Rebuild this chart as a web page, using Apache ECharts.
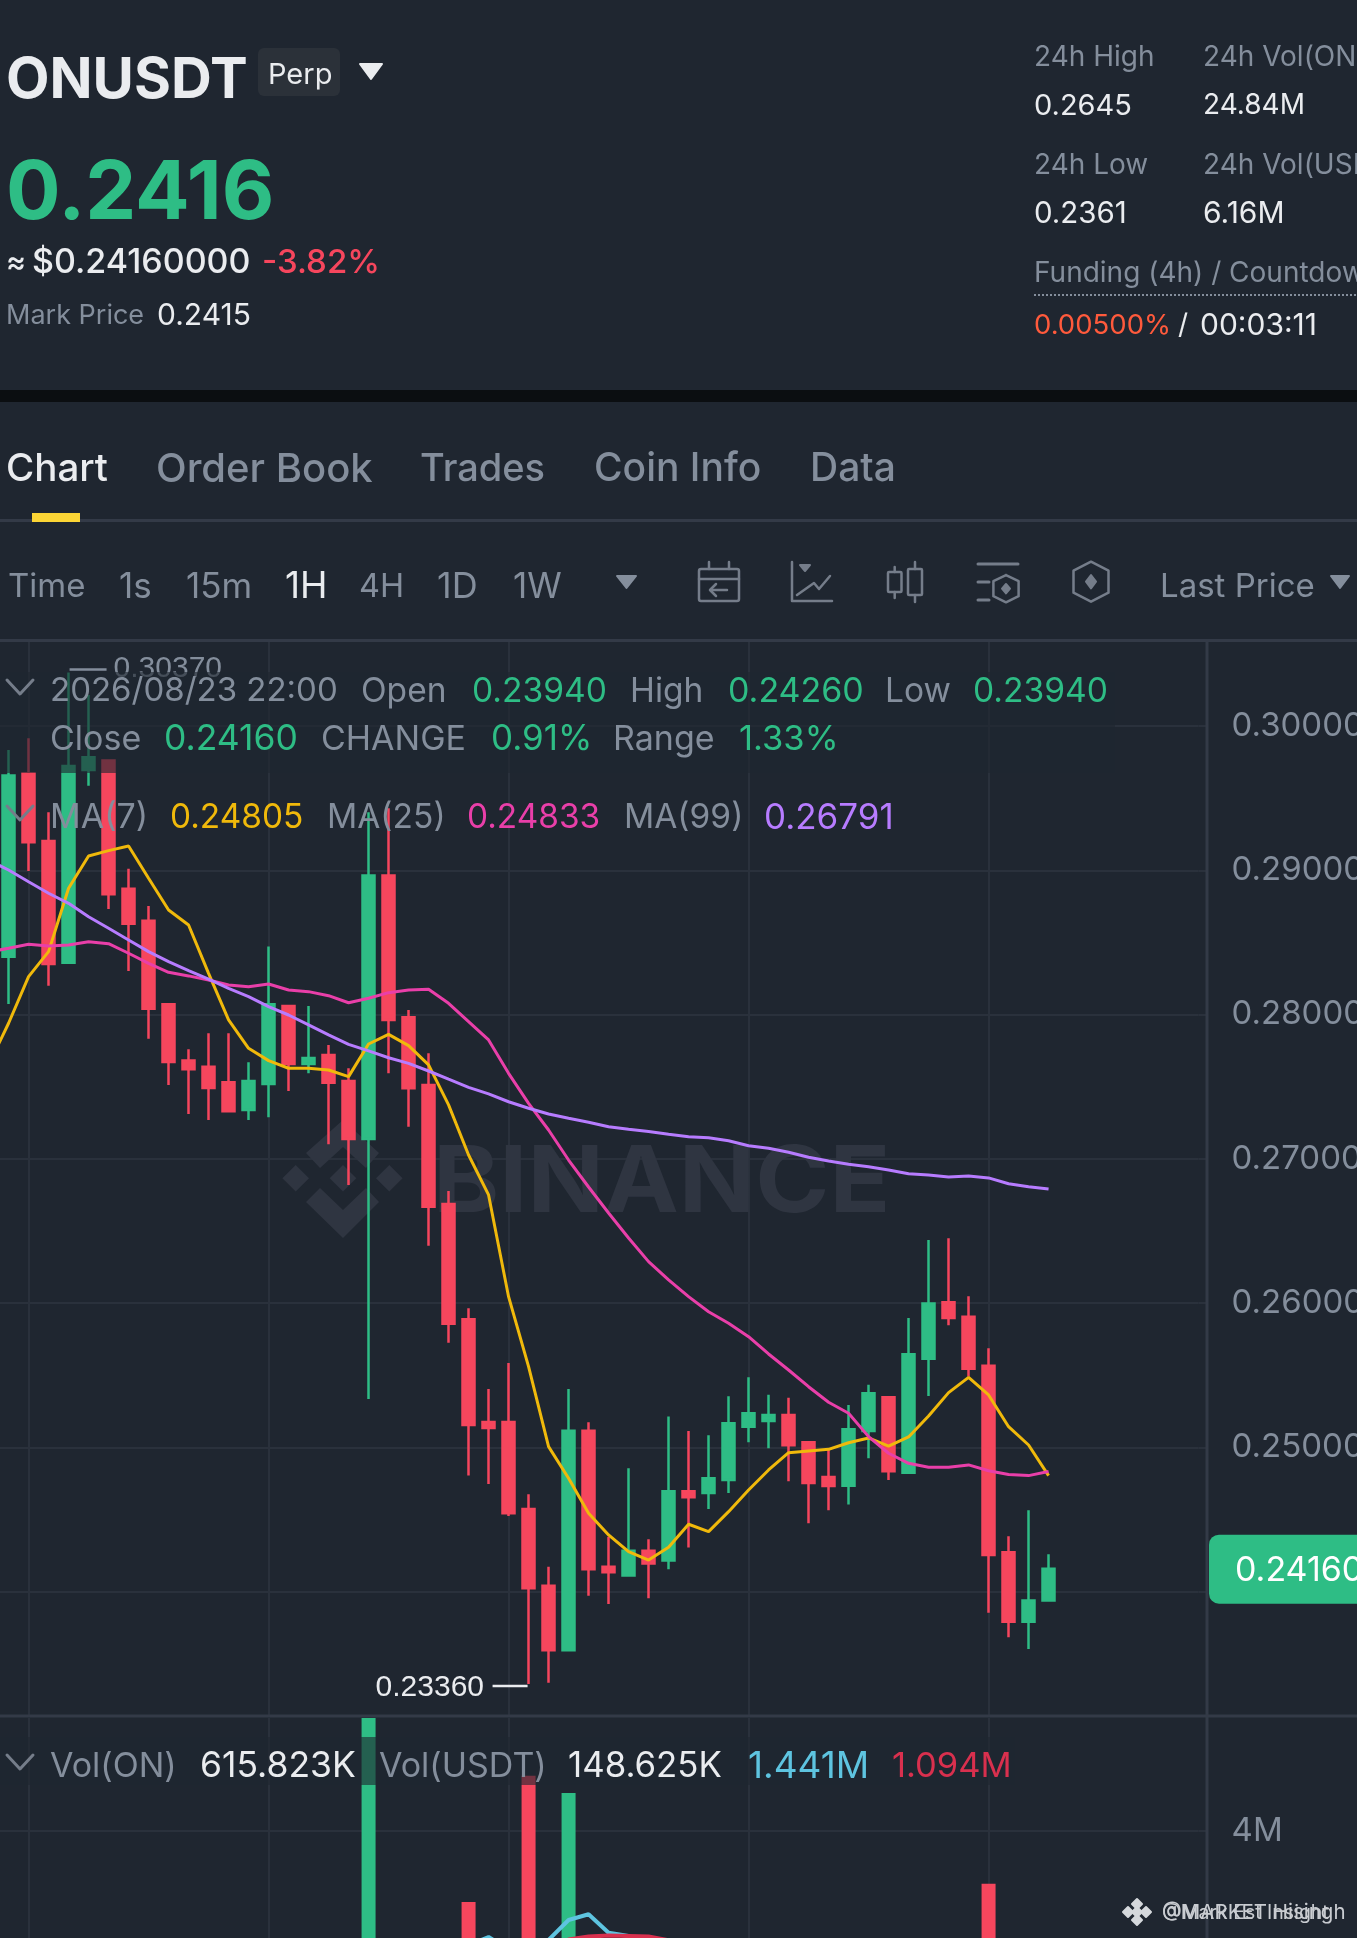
<!DOCTYPE html>
<html><head><meta charset="utf-8">
<style>html,body{margin:0;padding:0;background:#1f2630;overflow:hidden}#c{width:1357px;height:1938px}</style>
<script src="https://cdn.jsdelivr.net/npm/echarts@6/dist/echarts.min.js"></script>
</head><body><div id="c"></div>
<script>
const opens=[.27985,.28401,.29672,.29203,.28360,.29695,.29760,.28872,.28651,.28071,.27681,.27639,.27531,.27339,.27519,.28060,.27658,.27720,.27540,.27138,.28963,.27981,.27512,.26687,.25888,.25177,.25177,.24574,.24042,.23595,.25116,.24174,.24112,.24285,.24216,.24697,.24685,.24775,.25144,.25184,.25225,.25036,.24796,.24735,.25114,.25348,.24825,.25615,.26006,.25906,.25567,.24274,.23793,.23940];
const closes=[.28400,.29656,.29194,.28351,.29723,.29783,.28834,.28630,.28041,.27672,.27621,.27491,.27330,.27540,.28071,.27658,.27699,.27528,.27138,.28963,.27963,.27489,.26669,.25858,.25156,.25135,.24544,.24024,.23595,.25116,.24156,.24135,.24285,.24195,.24697,.24655,.24787,.25168,.25237,.25225,.25015,.24754,.24733,.25126,.25376,.24835,.25646,.25997,.25897,.25546,.24255,.23793,.23940,.24160];
const lows=[.27900,.28073,.28995,.28200,.28350,.29586,.28732,.28302,.27833,.27512,.27311,.27270,.27325,.27270,.27288,.27470,.27593,.27101,.26819,.25336,.27593,.27223,.26398,.25726,.24805,.24747,.24525,.23360,.23370,.23595,.23973,.23916,.24105,.23955,.24156,.24306,.24574,.24685,.25036,.24994,.24766,.24475,.24565,.24604,.24925,.24775,.24825,.25357,.25847,.25491,.23855,.23685,.23604,.23940];
const highs=[.28600,.29834,.29915,.29402,.30370,.30215,.29760,.29011,.28753,.28075,.27760,.27870,.27870,.27669,.28471,.28060,.28060,.27789,.27628,.29402,.29430,.28032,.27732,.26778,.25965,.25405,.25586,.24676,.24174,.25405,.25175,.24382,.24856,.24364,.25214,.25114,.25085,.25355,.25486,.25366,.25345,.25036,.24994,.25295,.25435,.25348,.25897,.26438,.26450,.26048,.25687,.24385,.24565,.24260];
const ma7=[.27651,.27940,.28263,.28436,.28875,.29099,.29136,.29168,.28945,.28725,.28621,.28286,.27963,.27766,.27681,.27628,.27628,.27616,.27570,.27796,.27863,.27785,.27651,.27374,.27027,.26750,.26045,.25560,.25006,.24787,.24544,.24394,.24278,.24220,.24308,.24468,.24417,.24555,.24705,.24844,.24964,.24976,.24987,.25033,.25066,.25010,.25073,.25218,.25380,.25486,.25364,.25144,.25017,.24805];
const ma25=[.28434,.28459,.28487,.28475,.28482,.28505,.28491,.28425,.28355,.28293,.28268,.28240,.28205,.28193,.28212,.28170,.28159,.28131,.28082,.28113,.28152,.28170,.28175,.28078,.27951,.27824,.27593,.27385,.27200,.26992,.26805,.26625,.26452,.26288,.26161,.26045,.25941,.25861,.25768,.25648,.25537,.25421,.25313,.25237,.25075,.24960,.24890,.24863,.24863,.24879,.24839,.24812,.24805,.24833];
const ma99=[.29071,.29002,.28921,.28841,.28771,.28678,.28598,.28517,.28436,.28367,.28304,.28245,.28182,.28124,.28055,.27997,.27928,.27859,.27794,.27748,.27701,.27662,.27609,.27552,.27496,.27450,.27396,.27351,.27311,.27281,.27254,.27223,.27205,.27189,.27170,.27154,.27147,.27126,.27091,.27073,.27046,.27011,.26985,.26963,.26946,.26923,.26897,.26888,.26875,.26882,.26868,.26828,.26807,.26791];
const volumes=[1.3,1.9,1.2,1.7,2.1,1.1,1.4,1.0,1.2,1.0,0.7,0.8,0.9,0.6,1.5,0.9,0.5,1.2,1.6,5.68,2.2,1.3,2.1,1.8,2.944,1.2,2.2,4.822,2.3,4.565,2.0,0.9,0.8,0.7,1.2,0.7,0.6,0.9,0.8,0.5,0.7,0.9,0.6,0.7,0.8,1.0,1.9,2.1,1.6,1.2,3.216,1.6,1.1,0.616];
const volMaShort=[1.4,1.4,1.5,1.6,1.7,1.6,1.5,1.4,1.3,1.1,1.0,0.9,0.9,0.8,0.9,0.9,0.9,1.0,1.1,2.0,2.1,2.2,2.3,2.2,2.3,2.424,2.24,2.3,2.38,2.677,2.762,2.488,2.439,2.2,1.8,1.2,0.9,0.9,0.8,0.8,0.8,0.8,0.7,0.7,0.7,0.8,1.0,1.3,1.5,1.6,2.0,2.0,1.8,1.441];
const volMaLong=[1.3,1.3,1.3,1.4,1.5,1.5,1.5,1.5,1.4,1.3,1.3,1.2,1.2,1.1,1.1,1.0,1.0,1.1,1.1,1.5,1.6,1.6,1.7,1.7,1.8,1.9,2.0,2.2,2.3,2.385,2.43,2.445,2.439,2.43,2.375,2.2,2.0,1.7,1.4,1.2,1.1,1.0,0.9,0.8,0.8,0.8,0.9,1.0,1.1,1.1,1.3,1.2,1.1,1.094];
const priceTicks=[0.24,0.25,0.26,0.27,0.28,0.29,0.30];
const volTicks=[0,2,4];
const categories=[];
for(let i=0;i<61;i++){const d=new Date(Date.UTC(2026,7,23,22+i-53));categories.push(d.toISOString().slice(0,16).replace('T',' '));}
const HI_I=4, LO_I=27, LAST_I=closes.length-1;

const BG='#1f2630',GREEN='#2EBD85',RED='#F6465D',GRAY='#848E9C',WHITE='#EAECEF',GRID='#2a313c',SEP='#333a47',ICON='#757D8A';
const FONT='Inter, "Noto Sans", sans-serif';
const isUp=i=>closes[i]>=opens[i];
const chart=echarts.init(document.getElementById('c'),null,{renderer:'canvas',width:1357,height:1938});
const gridX={left:-21.43,width:1220,outerBoundsMode:'none'};
const xBase={type:'category',data:categories,axisLine:{show:false},axisTick:{show:false},axisLabel:{show:false},
  splitLine:{show:true,alignWithLabel:true,interval:i=>(i-2)%12===0,lineStyle:{color:GRID,width:2}}};
const yBase={type:'value',position:'right',axisLine:{show:false},scale:true,
  splitLine:{show:true,lineStyle:{color:GRID,width:2}},
  axisTick:{show:true,length:8.43,lineStyle:{color:GRID,width:2}}};
const line=(name,data,color,w,xi,yi)=>({name,type:'line',data,xAxisIndex:xi,yAxisIndex:yi,showSymbol:false,symbol:'none',
  lineStyle:{color,width:w},silent:true,z:5});
chart.setOption({
  animation:false,backgroundColor:BG,
  grid:[{...gridX,top:642,height:1074},{...gridX,top:1718,height:382}],
  xAxis:[{...xBase,gridIndex:0},{...xBase,gridIndex:1}],
  yAxis:[
   {...yBase,gridIndex:0,min:0.23139,max:0.30582,
    axisTick:{...yBase.axisTick,customValues:priceTicks},
    axisLabel:{customValues:priceTicks,margin:33,color:GRAY,fontFamily:FONT,fontSize:33,formatter:v=>v.toFixed(5)}},
   {...yBase,gridIndex:1,min:0,max:5.68,
    axisTick:{...yBase.axisTick,customValues:volTicks},
    axisLabel:{customValues:volTicks,margin:33,color:GRAY,fontFamily:FONT,fontSize:33,formatter:v=>v+'M'}}
  ],
  series:[
   {name:'Candles',type:'candlestick',xAxisIndex:0,yAxisIndex:0,barWidth:12,z:3,
    data:opens.map((o,i)=>[o,closes[i],lows[i],highs[i]]),
    itemStyle:{color:GREEN,color0:RED,borderColor:GREEN,borderColor0:RED,borderWidth:2.5}},
   line('MA(7)',ma7,'#F0B90B',3,0,0),
   line('MA(25)',ma25,'#E93FA9',3,0,0),
   line('MA(99)',ma99,'#B77CFF',3,0,0),
   {name:'Vol',type:'bar',xAxisIndex:1,yAxisIndex:1,barWidth:14,z:3,
    data:volumes.map((v,i)=>({value:v,itemStyle:{color:isUp(i)?GREEN:RED}}))},
   line('VolMA short',volMaShort,'#5EC4E0',4,1,1),
   line('VolMA long',volMaLong,'#D9304E',4,1,1)
  ]
});

// ---- page chrome drawn as graphic elements
const g=[];
const Z=50;
const T=(text,x,y,fill,size,weight,opt)=>g.push(Object.assign({type:'text',x,y,z:Z+2,silent:true,
  style:{text,fill,font:`${weight||400} ${size}px ${FONT}`,verticalAlign:'middle',align:'left'}},opt||{}));
const R=(x,y,w,h,fill,r,z)=>g.push({type:'rect',z:z==null?Z:z,silent:true,shape:{x,y,width:w,height:h,r:r||0},style:{fill}});
const L=(pts,stroke,w,opt)=>g.push({type:'polyline',z:Z+1,silent:true,shape:{points:pts},style:Object.assign({stroke,lineWidth:w,fill:null,lineJoin:'round',lineCap:'round'},opt||{})});
const P=(pts,fill,z)=>g.push({type:'polygon',z:z==null?Z+1:z,silent:true,shape:{points:pts},style:{fill,stroke:fill,lineWidth:z===1?0:2,lineJoin:'round'}});

// watermark
const WM='#2f3541';
g.push({type:'text',x:433,y:1184,scaleX:1.09,z:1,silent:true,style:{text:'BINANCE',fill:WM,font:`700 92px ${FONT}`,verticalAlign:'middle',align:'left'}});
P([[295.7,1165],[309,1178.3],[295.7,1191.6],[282.4,1178.3]],WM,1);
P([[343,1165],[356.3,1178.3],[343,1191.6],[329.7,1178.3]],WM,1);
P([[389.3,1165],[402.6,1178.3],[389.3,1191.6],[376,1178.3]],WM,1);
P([[343,1120],[379,1153],[366,1168],[343,1147],[320,1168],[306,1153]],WM,1);
P([[343,1238],[379,1202],[366,1188],[343,1210],[320,1188],[306,1202]],WM,1);

// header band / separators
R(0,390,1357,12,'#0b0e11');
R(0,519,1357,3,SEP);
R(32,513,48,9,'#FCD535');
R(0,639,1357,3,SEP);
R(1205.5,642,3,1296,SEP);
R(0,1714.5,1357,3,SEP);

// dimming behind legend rows
R(0,672,1115,101,'rgba(31,38,48,0.62)');
R(0,1737,1015,48,'rgba(31,38,48,0.62)');

T('ONUSDT',6,81,WHITE,56.5,700);
R(258,48,82,48,'#2b3139',6);
T('Perp',268,75,WHITE,29,400);
P([[360,64],[382,64],[371,79]],WHITE);
T('0.2416',6,195,GREEN,81,700);
T('≈',6,263,WHITE,30,500);
T('$0.24160000',32,263,WHITE,34,500);
T('-3.82%',262,263,RED,33,500);
T('Mark Price',6,316,GRAY,27);
T('0.2415',157,316,WHITE,30);
T('24h High',1034,58,GRAY,28);T('24h Vol(ON)',1203,58,GRAY,28);
T('0.2645',1034,106,WHITE,29);T('24.84M',1203,106,WHITE,28);
T('24h Low',1034,166,GRAY,28);T('24h Vol(USDT)',1203,166,GRAY,28);
T('0.2361',1034,214,WHITE,29.5);T('6.16M',1203,214,WHITE,30);
T('Funding (4h) / Countdown',1034,274,GRAY,28);
g.push({type:'line',z:Z+1,silent:true,shape:{x1:1034,y1:295,x2:1357,y2:295},style:{stroke:GRAY,lineWidth:2,lineDash:[2,2]}});
T('0.00500%',1034,325.5,'#FF5A3C',27.5);
T('/',1178,325.5,WHITE,28);
T('00:03:11',1200,325.5,WHITE,30);

T('Chart',6,469.5,WHITE,38.5,500);
[['Order Book',156,40],['Trades',420,38],['Coin Info',594,39],['Data',810,39]].forEach(a=>T(a[0],a[1],469.5,GRAY,a[2],500));

[['Time',8,GRAY,33],['1s',119,GRAY,35],['15m',186,GRAY,35],['1H',285,WHITE,37],['4H',359,GRAY,32.5],['1D',437,GRAY,36],['1W',513,GRAY,35],['Last Price',1160,GRAY,33]].forEach(a=>T(a[0],a[1],587,a[2],a[3]));
P([[617,576],[636,576],[626.5,588]],GRAY);
P([[1331,576],[1349,576],[1340,588]],GRAY);

// toolbar icons
g.push({type:'rect',z:Z+1,silent:true,shape:{x:699,y:569,width:40,height:32,r:2},style:{stroke:ICON,lineWidth:2.5,fill:null}});
L([[699,579],[739,579]],ICON,2.5);L([[709,562],[709,569]],ICON,2.5);L([[729,562],[729,569]],ICON,2.5);
L([[727,590],[711,590]],ICON,2.5);L([[716,584],[710,590],[716,596]],ICON,2.5);
L([[792,562],[792,601],[832,601]],ICON,2.5);P([[800,565],[810,565],[805,571]],ICON);
L([[797,595],[814,583],[819,589],[830,576]],ICON,2.5);
g.push({type:'rect',z:Z+1,silent:true,shape:{x:888,y:572,width:13.5,height:20,r:1},style:{stroke:ICON,lineWidth:2.5,fill:null}});
g.push({type:'rect',z:Z+1,silent:true,shape:{x:908,y:569,width:14,height:26,r:1},style:{stroke:ICON,lineWidth:2.5,fill:null}});
L([[894.7,567],[894.7,572]],ICON,2.5);L([[894.7,592],[894.7,598]],ICON,2.5);
L([[915,562],[915,569]],ICON,2.5);L([[915,595],[915,602]],ICON,2.5);
L([[978,564],[1018,564]],ICON,3);L([[978,582],[989,582]],ICON,3);L([[978,600],[989,600]],ICON,3);
const hex=(cx,cy,w,h)=>[[cx,cy-h],[cx+w,cy-h*0.55],[cx+w,cy+h*0.55],[cx,cy+h],[cx-w,cy+h*0.55],[cx-w,cy-h*0.55],[cx,cy-h]];
L(hex(1006,588.7,12.6,13.6),ICON,2.5);P([[1006,584],[1010,588.7],[1006,593.4],[1002,588.7]],ICON);
L(hex(1091,581.7,17.5,20),ICON,2.5);P([[1091,575],[1096,581.7],[1091,588.4],[1086,581.7]],ICON);

// legend rows
const chevron=y=>L([[7,y],[20,y+14],[33,y]],ICON,3);
chevron(680);chevron(806);chevron(1755);
[['2026/08/23 22:00',50,GRAY,33],['Open',361,GRAY,33.5],['0.23940',472,GREEN,33.6],['High',630,GRAY,33.5],['0.24260',728,GREEN,34],['Low',885,GRAY,33.5],['0.23940',973,GREEN,33.6]].forEach(a=>T(a[0],a[1],691.5,a[2],a[3]));
[['Close',50,GRAY,34],['0.24160',164,GREEN,35.5],['CHANGE',321,GRAY,34],['0.91%',491,GREEN,35],['Range',613,GRAY,34],['1.33%',739,GREEN,34.5]].forEach(a=>T(a[0],a[1],739.5,a[2],a[3]));
[['MA(7)',50,GRAY,34],['0.24805',170,'#F0B90B',33.4],['MA(25)',327,GRAY,33.5],['0.24833',467,'#E93FA9',33.4],['MA(99)',624,GRAY,33.5],['0.26791',764,'#B77CFF',35]].forEach(a=>T(a[0],a[1],818,a[2],a[3]));
[['Vol(ON)',50,GRAY,34],['615.823K',200,WHITE,35.5],['Vol(USDT)',379,GRAY,34],['148.625K',568,WHITE,34.8],['1.441M',748,'#5EC4E0',37],['1.094M',892,'#D9304E',34.5]].forEach(a=>T(a[0],a[1],1766.5,a[2],a[3]));

// value-anchored labels: high, low, last price
const ARIAL='"Liberation Sans", Arial, sans-serif';
const pHi=chart.convertToPixel({gridIndex:0},[HI_I,highs[HI_I]]);
const pLo=chart.convertToPixel({gridIndex:0},[LO_I,lows[LO_I]]);
const pLast=chart.convertToPixel({gridIndex:0},[LAST_I,closes[LAST_I]]);
L([[pHi[0]+1,pHi[1]-3],[pHi[0]+38,pHi[1]-3]],GRAY,2.5,{lineCap:'butt'});
g.push({type:'text',x:pHi[0]+45,y:pHi[1]-4,z:Z-1,silent:true,style:{text:highs[HI_I].toFixed(5),fill:GRAY,font:`30px ${ARIAL}`,verticalAlign:'middle'}});
L([[pLo[0]-36,pLo[1]+2],[pLo[0]-1,pLo[1]+2]],WHITE,2.5,{lineCap:'butt'});
g.push({type:'text',x:pLo[0]-153,y:pLo[1]+4,z:Z+2,silent:true,style:{text:lows[LO_I].toFixed(5),fill:WHITE,font:`30px ${ARIAL}`,verticalAlign:'middle'}});
R(1209,pLast[1]-34,160,69,GREEN,10);
T(closes[LAST_I].toFixed(5),1235,pLast[1]+2,'#fff',34);

// reposted-image watermark, bottom right
[[1128,1912],[1137,1904],[1137,1920],[1146,1912],[1137,1912]].forEach(c=>P([[c[0],c[1]-5],[c[0]+5,c[1]],[c[0],c[1]+5],[c[0]-5,c[1]]],'#d5d8dc'));
T('@MARKET Hisingh',1162,1913,'#c9ccd1',20.5);
T('@Mark Est Insight',1162,1913,'#c9ccd1',19.5);

chart.setOption({graphic:{elements:g}});
</script></body></html>
